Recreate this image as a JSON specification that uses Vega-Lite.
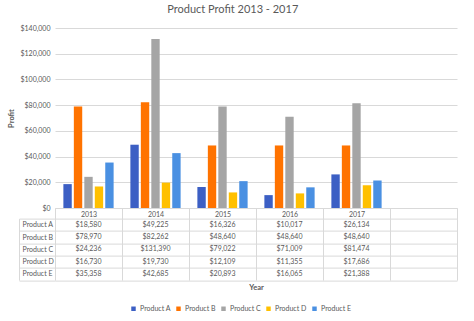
{
  "$schema": "https://vega.github.io/schema/vega-lite/v6.json",
  "background": "white",
  "padding": {"left": 7, "top": 4, "right": 5, "bottom": 5},
  "title": {"text": "Product Profit 2013 - 2017", "fontSize": 11, "fontWeight": "normal", "color": "#595959", "anchor": "middle", "offset": 9},
  "bounds": "flush",
  "spacing": 10.6,
  "datasets": {
    "profit": [
      {"year": "2013", "product": "Product A", "profit": 18580},
      {"year": "2014", "product": "Product A", "profit": 49225},
      {"year": "2015", "product": "Product A", "profit": 16326},
      {"year": "2016", "product": "Product A", "profit": 10017},
      {"year": "2017", "product": "Product A", "profit": 26134},
      {"year": "2013", "product": "Product B", "profit": 78970},
      {"year": "2014", "product": "Product B", "profit": 82262},
      {"year": "2015", "product": "Product B", "profit": 48640},
      {"year": "2016", "product": "Product B", "profit": 48640},
      {"year": "2017", "product": "Product B", "profit": 48640},
      {"year": "2013", "product": "Product C", "profit": 24236},
      {"year": "2014", "product": "Product C", "profit": 131390},
      {"year": "2015", "product": "Product C", "profit": 79022},
      {"year": "2016", "product": "Product C", "profit": 71009},
      {"year": "2017", "product": "Product C", "profit": 81474},
      {"year": "2013", "product": "Product D", "profit": 16730},
      {"year": "2014", "product": "Product D", "profit": 19730},
      {"year": "2015", "product": "Product D", "profit": 12109},
      {"year": "2016", "product": "Product D", "profit": 11355},
      {"year": "2017", "product": "Product D", "profit": 17686},
      {"year": "2013", "product": "Product E", "profit": 35358},
      {"year": "2014", "product": "Product E", "profit": 42685},
      {"year": "2015", "product": "Product E", "profit": 20893},
      {"year": "2016", "product": "Product E", "profit": 16065},
      {"year": "2017", "product": "Product E", "profit": 21388}
    ]
  },
  "vconcat": [
    {
      "width": 402,
      "height": 180,
      "data": {"name": "profit"},
      "mark": {"type": "bar"},
      "encoding": {
        "x": {
          "field": "year", "type": "nominal",
          "scale": {"domain": ["2013", "2014", "2015", "2016", "2017", ""], "paddingInner": 0, "paddingOuter": 0},
          "axis": {"title": null, "labelAngle": 0, "tickBand": "extent", "tickSize": 10.6, "tickColor": "#d9d9d9", "domainColor": "#d9d9d9", "labelPadding": -8, "labelFontSize": 7, "labelColor": "#595959"}
        },
        "xOffset": {"field": "product", "type": "nominal", "scale": {"paddingInner": 0.2, "paddingOuter": 0.8}},
        "y": {
          "field": "profit", "type": "quantitative",
          "scale": {"domain": [0, 140000]},
          "axis": {"title": "Profit", "values": [0, 20000, 40000, 60000, 80000, 100000, 120000, 140000], "format": "$,d", "grid": true, "gridColor": "#d9d9d9", "domain": false, "ticks": false, "labelFontSize": 7, "labelColor": "#595959", "labelPadding": 5, "titleFontSize": 7.5, "titleFontWeight": "bold", "titleColor": "#595959", "titlePadding": 4}
        },
        "color": {
          "field": "product", "type": "nominal",
          "scale": {"domain": ["Product A", "Product B", "Product C", "Product D", "Product E"], "range": ["#3c5fc4", "#ff7300", "#a5a5a5", "#ffc000", "#4a90e2"]},
          "legend": {"orient": "none", "legendX": 75, "legendY": 277, "title": null, "direction": "horizontal", "symbolType": "square", "symbolSize": 20, "labelFontSize": 7, "labelColor": "#595959", "columnPadding": 4, "labelOffset": 3}
        }
      }
    },
    {
      "width": 402,
      "height": 61.5,
      "data": {"name": "profit"},
      "mark": {"type": "text", "fontSize": 7, "color": "#595959"},
      "encoding": {
        "x": {
          "field": "year", "type": "nominal",
          "scale": {"domain": ["2013", "2014", "2015", "2016", "2017", ""], "paddingInner": 0, "paddingOuter": 0},
          "axis": {"orient": "bottom", "title": "Year", "labels": false, "ticks": false, "domain": false, "grid": true, "tickBand": "extent", "gridColor": "#d9d9d9", "titleFontSize": 7.5, "titleFontWeight": "bold", "titleColor": "#595959", "titlePadding": 3}
        },
        "y": {
          "field": "product", "type": "nominal",
          "scale": {"domain": ["Product A", "Product B", "Product C", "Product D", "Product E"], "paddingInner": 0, "paddingOuter": 0},
          "axis": {"title": null, "grid": true, "tickBand": "extent", "gridColor": "#d9d9d9", "offset": 36, "tickSize": -36, "tickColor": "#d9d9d9", "labelAlign": "left", "labelPadding": 33, "domain": true, "domainColor": "#d9d9d9", "labelFontSize": 7, "labelColor": "#595959"}
        },
        "text": {"field": "profit", "type": "quantitative", "format": "$,d"}
      }
    }
  ],
  "config": {"view": {"stroke": null}, "font": "Lato"}
}
